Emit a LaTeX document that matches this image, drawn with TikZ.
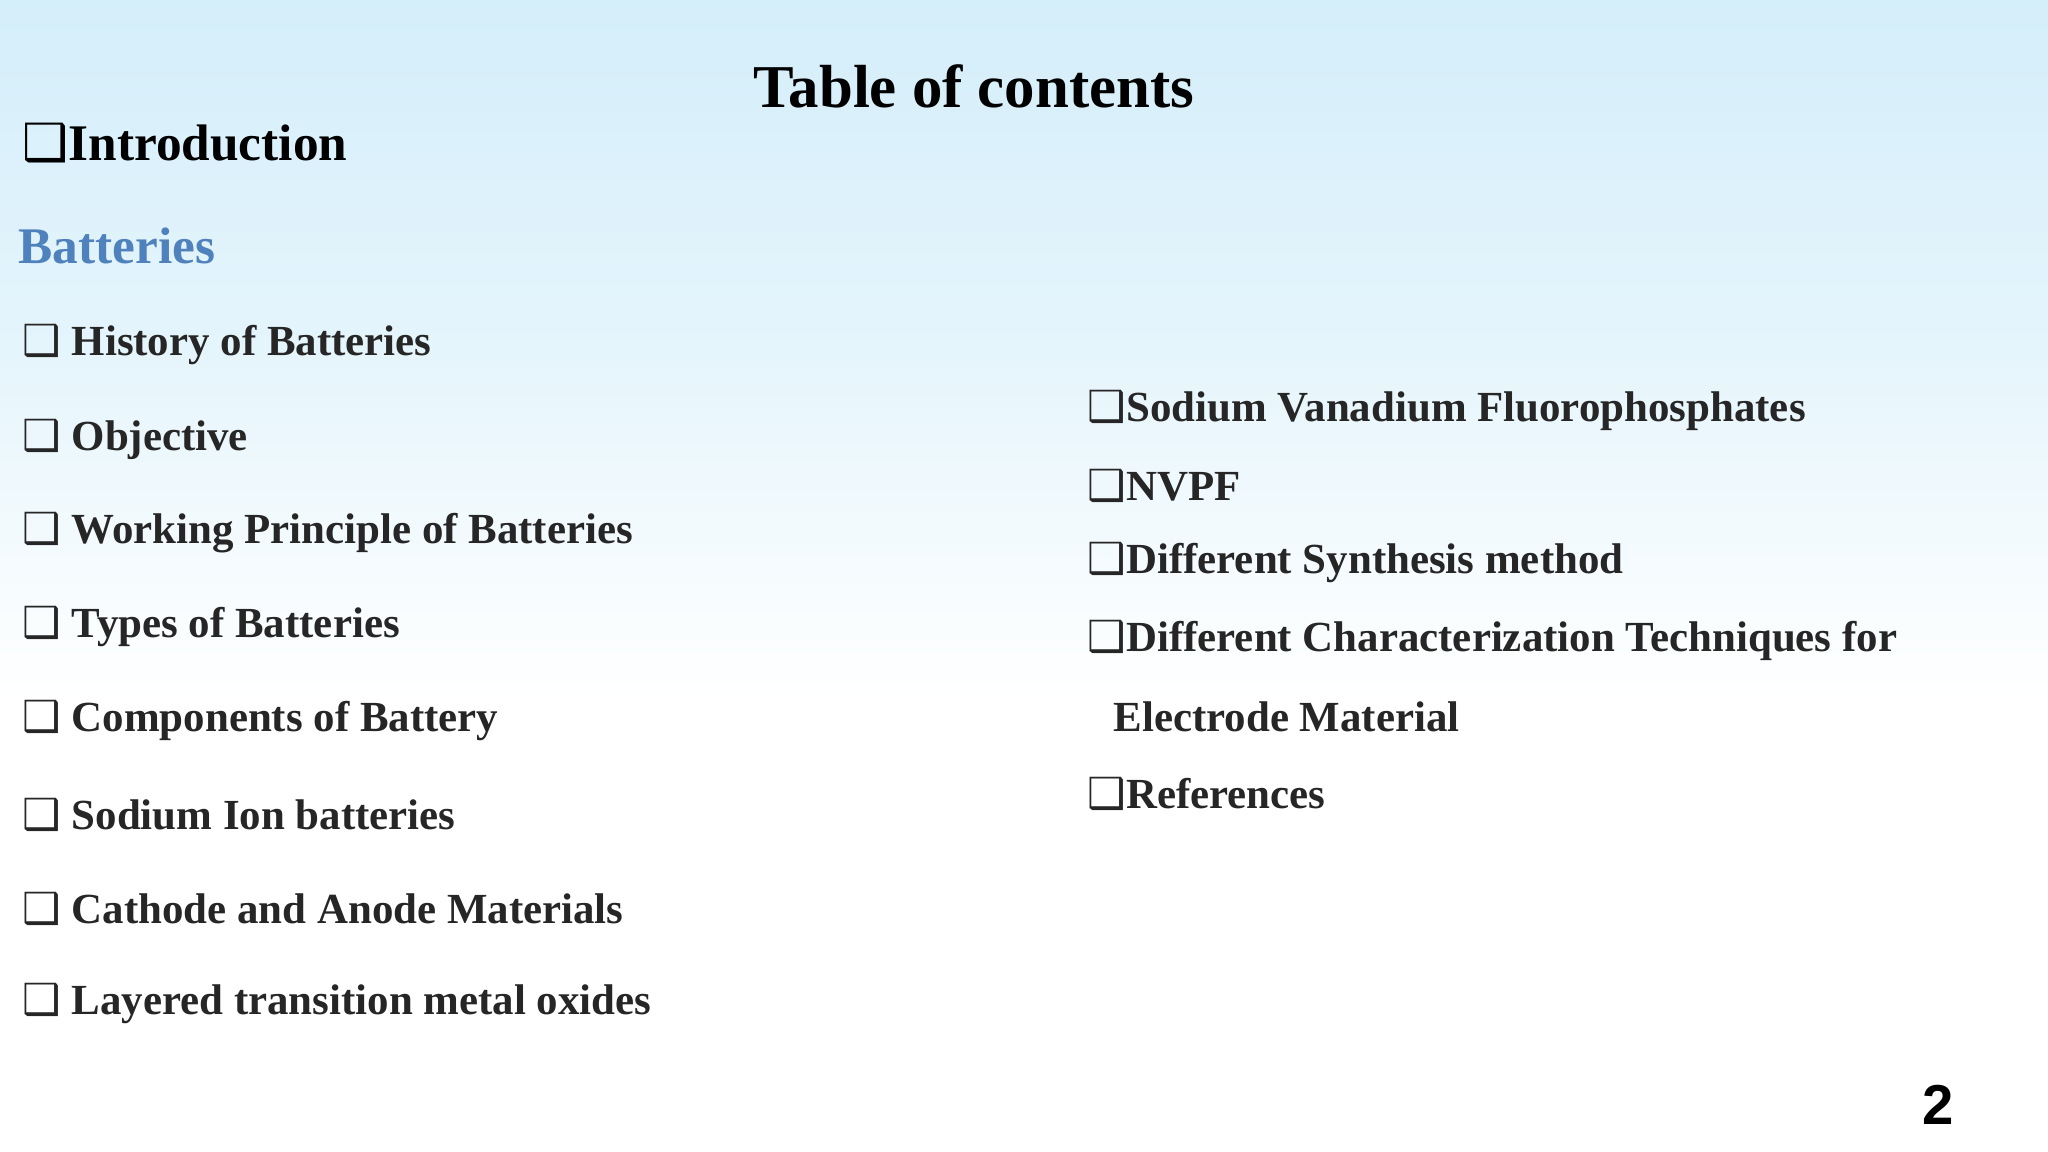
\documentclass[tikz,border=0pt]{standalone}
\usepackage{fontspec}
\setmainfont{Liberation Serif}
\newfontfamily\boxfont{DejaVu Sans}
\newfontfamily\numfont{Liberation Sans}
\definecolor{sky}{RGB}{212,238,250}
\definecolor{bblue}{RGB}{79,129,189}
\tikzset{item/.style={anchor=west,font=\bfseries\fontsize{12.2}{14}\selectfont,text=black!85,inner sep=0pt},
 big/.style={anchor=west,font=\bfseries\fontsize{14.6}{17}\selectfont,inner sep=0pt}}
\newcommand{\bx}{{\boxfont\char"2751}}
\begin{document}
\begin{tikzpicture}[x=0.01cm,y=-0.01cm]
\useasboundingbox (0,0) rectangle (2048,1152);
\shade[top color=sky,bottom color=white,middle color=sky!60] (0,0) rectangle (2048,700);
\fill[white] (0,700) rectangle (2048,1152);
\node[font=\bfseries\fontsize{17.3}{20}\selectfont] (title) at (974,86) {Table of contents};
\node[big] (intro) at (22,143) {\bx Introduction};
\node[big,text=bblue] (bat) at (18,246) {Batteries};
\node[item] (l1) at (22,345) {\bx\kern3pt History of Batteries};
\node[item] (l2) at (22,439) {\bx\kern3pt Objective};
\node[item] (l3) at (22,533) {\bx\kern3pt Working Principle of Batteries};
\node[item] (l4) at (22,627) {\bx\kern3pt Types of Batteries};
\node[item] (l5) at (22,721) {\bx\kern3pt Components of Battery};
\node[item] (l6) at (22,815) {\bx\kern3pt Sodium Ion batteries};
\node[item] (l7) at (22,909) {\bx\kern3pt Cathode and Anode Materials};
\node[item] (l8) at (22,1003) {\bx\kern3pt Layered transition metal oxides};
\node[item] (r1) at (1087,410) {\bx Sodium Vanadium Fluorophosphates};
\node[item] (r2) at (1087,486) {\bx NVPF};
\node[item] (r3) at (1087,563) {\bx Different Synthesis method};
\node[item] (r4) at (1087,640) {\bx Different Characterization Techniques for};
\node[item] (r5) at (1113,717) {Electrode Material};
\node[item] (r6) at (1087,794) {\bx References};
\node[font=\numfont\bfseries\fontsize{16}{18}\selectfont] (num) at (1938,1105) {2};
\end{tikzpicture}
\end{document}
